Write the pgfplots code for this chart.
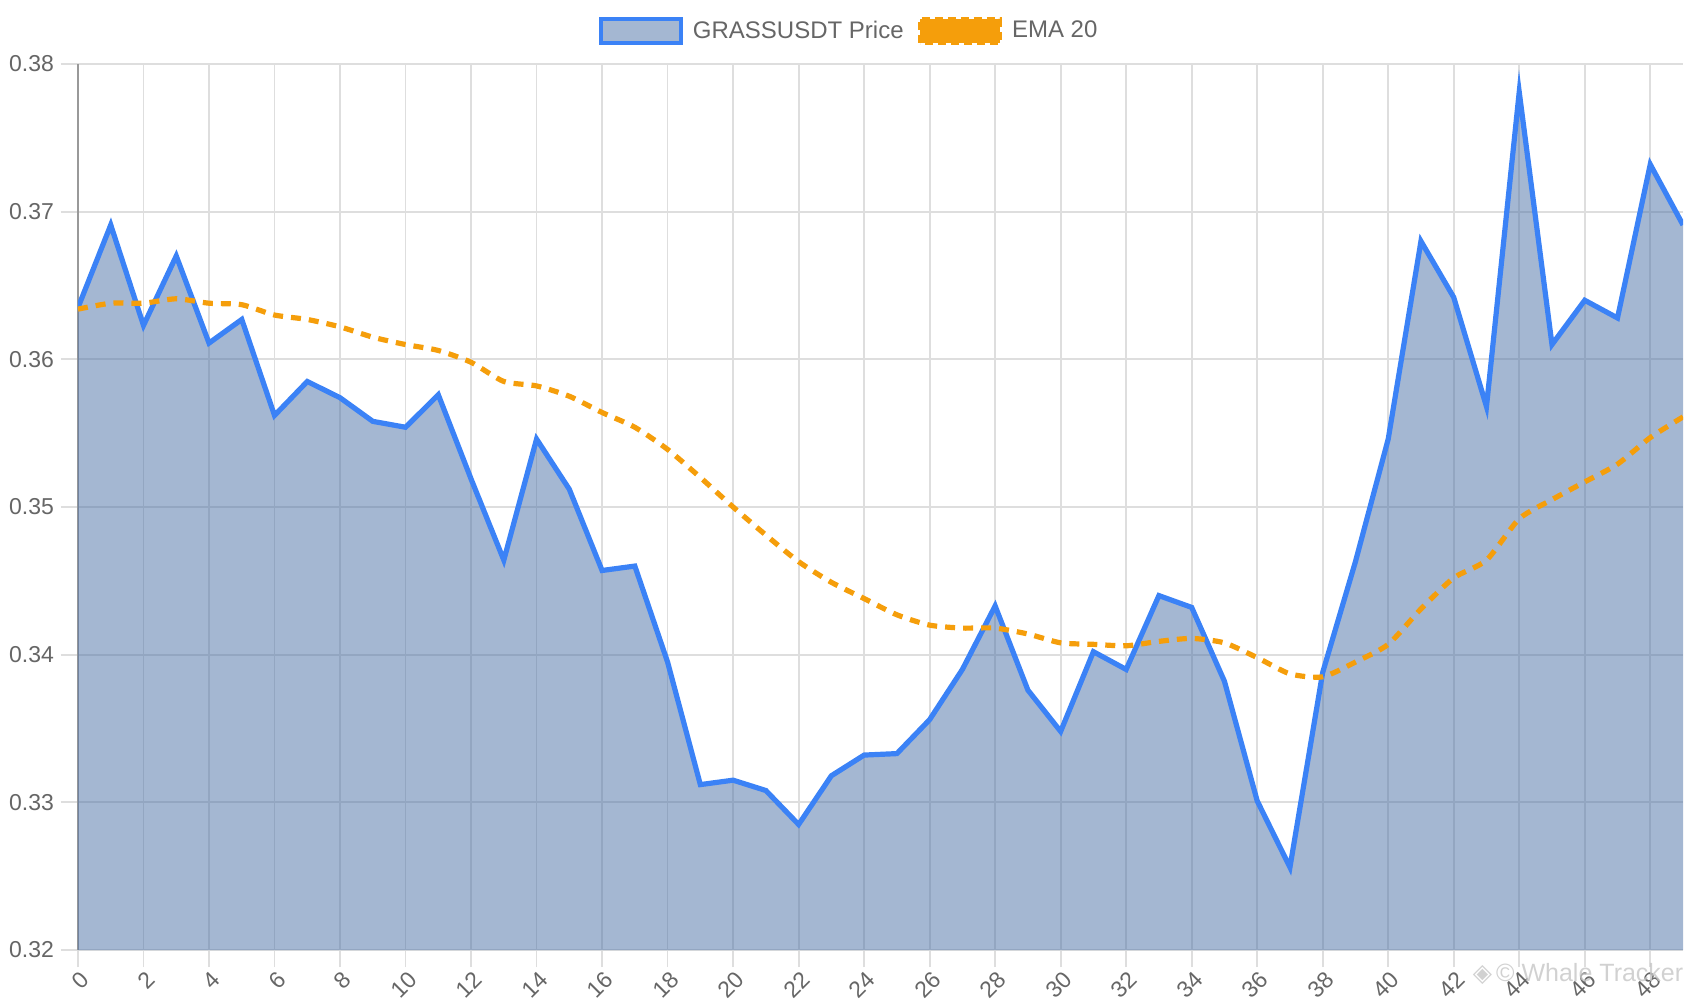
\documentclass[border=0pt]{standalone}
\usepackage{fontspec}
\setmainfont{Liberation Sans}
\newfontfamily\symfont{DejaVu Sans}
\usepackage{pgfplots}
\usepackage{pgfplotstable}
\pgfplotsset{compat=1.18}
\definecolor{pricecol}{HTML}{3B82F6}
\definecolor{fillcol}{HTML}{4A6FA5}
\definecolor{emacol}{HTML}{F59E0B}
\definecolor{gridcol}{HTML}{DEDEDE}
\definecolor{txtcol}{HTML}{666666}

\pgfplotstableread{
x y
0 0.3635
1 0.3691
2 0.3623
3 0.3670
4 0.3611
5 0.3627
6 0.3562
7 0.3585
8 0.3574
9 0.3558
10 0.3554
11 0.3576
12 0.3519
13 0.3464
14 0.3546
15 0.3512
16 0.3457
17 0.3460
18 0.3395
19 0.3312
20 0.3315
21 0.3308
22 0.3285
23 0.3318
24 0.3332
25 0.3333
26 0.3356
27 0.3390
28 0.3433
29 0.3376
30 0.3348
31 0.3402
32 0.3390
33 0.3440
34 0.3432
35 0.3382
36 0.3301
37 0.3256
38 0.3388
39 0.3463
40 0.3546
41 0.3680
42 0.3642
43 0.3568
44 0.3781
45 0.3610
46 0.3640
47 0.3628
48 0.3732
49 0.3691
}\pricetab

\pgfplotstableread{
x y
0 0.3634
1 0.3638
2 0.3638
3 0.3641
4 0.3638
5 0.3637
6 0.3630
7 0.3627
8 0.3622
9 0.3615
10 0.3610
11 0.3606
12 0.3598
13 0.3585
14 0.3582
15 0.3575
16 0.3564
17 0.3554
18 0.3539
19 0.3520
20 0.3500
21 0.3481
22 0.3463
23 0.3449
24 0.3438
25 0.3427
26 0.3420
27 0.3418
28 0.3418
29 0.3414
30 0.3408
31 0.3407
32 0.3406
33 0.3409
34 0.3411
35 0.3408
36 0.3398
37 0.3387
38 0.3385
39 0.3395
40 0.3407
41 0.3431
42 0.3452
43 0.3464
44 0.3492
45 0.3505
46 0.3517
47 0.3529
48 0.3547
49 0.3561
}\ematab

\begin{document}
\begin{tikzpicture}
\useasboundingbox (-39pt,-25pt) rectangle (811pt,475pt);
\begin{axis}[
  scale only axis, width=802.5pt, height=443pt,
  at={(0,0)}, anchor=south west,
  xmin=0, xmax=49, ymin=0.32, ymax=0.38,
  xtick={0,2,...,48},
  ytick={0.32,0.33,0.34,0.35,0.36,0.37,0.38},
  grid=major, major grid style={draw=gridcol, line width=0.9pt},
  axis x line*=bottom, axis y line*=left,
  x axis line style={draw=none},
  y axis line style={draw=black!40, line width=0.9pt, -},
  tick align=outside, major tick length=8.5pt,
  tick style={draw=gridcol, line width=0.9pt},
  xticklabel style={rotate=45, anchor=north east, font=\fontsize{11.5}{13}\selectfont, text=txtcol, xshift=3pt, yshift=2pt,
     /pgf/number format/.cd, fixed, precision=0, assume math mode=true},
  yticklabel style={font=\fontsize{11.5}{13}\selectfont, text=txtcol,
     /pgf/number format/.cd, fixed, fixed zerofill, precision=2, assume math mode=true},
  legend style={at={(0.481,1.0373)}, anchor=center, draw=none, fill=none,
    font=\fontsize{12}{14}\selectfont, text=txtcol,
    /tikz/every odd column/.append style={column sep=3pt},
    /tikz/every even column/.append style={column sep=5pt}},
  legend columns=-1,
]
\addplot[draw=none, fill=fillcol, fill opacity=0.5, forget plot] table[x=x,y=y] {\pricetab} \closedcycle;
\addplot[pricecol, line width=2.6pt,
  legend image code/.code={\draw[pricecol, line width=2.2pt, fill=fillcol, fill opacity=0.5] (0pt,-6pt) rectangle (40pt,6pt);}]
  table[x=x,y=y] {\pricetab};
\addlegendentry{GRASSUSDT Price}
\addplot[emacol, line width=2.6pt, dash pattern=on 5pt off 4pt, smooth, tension=0.4,
  legend image code/.code={\draw[emacol, line width=2.2pt, dash pattern=on 4pt off 2.5pt, fill=emacol] (0pt,-6pt) rectangle (40pt,6pt);}]
  table[x=x,y=y] {\ematab};
\addlegendentry{EMA 20}
\end{axis}
\node[text=gray!45, opacity=0.8, font=\fontsize{12.5}{15}\selectfont, anchor=center, inner sep=0pt] at (750pt,-12pt) {{\symfont ◈}\,© Whale Tracker};
\end{tikzpicture}
\end{document}
